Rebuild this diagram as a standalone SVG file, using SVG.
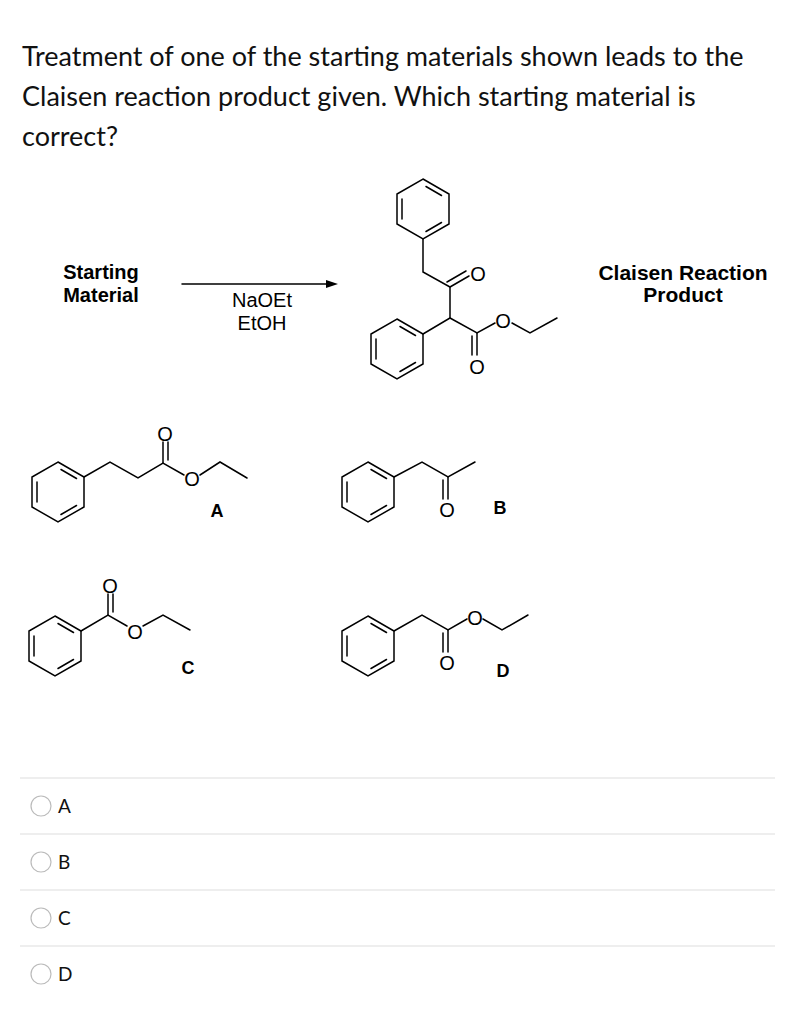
<svg xmlns="http://www.w3.org/2000/svg" xmlns:xlink="http://www.w3.org/1999/xlink" width="799" height="1024" viewBox="0 0 799 1024">
<style>
.b{stroke:#000;stroke-width:1.5;fill:none;stroke-linecap:round}
.q{font-family:Lato,"Open Sans",sans-serif;font-size:27px;fill:#111}
.o{font-family:"Liberation Sans",Arial,sans-serif;font-size:20px;fill:#000;text-anchor:middle}
.l{font-family:"Liberation Sans",Arial,sans-serif;font-size:18px;font-weight:bold;fill:#000;text-anchor:middle}
.h{font-family:"Liberation Sans",Arial,sans-serif;font-size:20px;font-weight:bold;fill:#000;text-anchor:middle}
.h2{font-family:"Liberation Sans",Arial,sans-serif;font-size:21px;font-weight:bold;fill:#000;text-anchor:middle}
.sep{stroke:#ddd;stroke-width:1}
.rad{fill:#fff;stroke:#bbb;stroke-width:1.2}
.opt{font-family:Lato,"Open Sans",sans-serif;font-size:19px;fill:#111}
</style>
<defs>
<g id="ring">
<polygon class="b" points="0,-30 26,-15 26,15 0,30 -26,15 -26,-15"/>
<line class="b" x1="-21" y1="-10" x2="-21" y2="10"/>
<line class="b" x1="3" y1="-22.5" x2="18.5" y2="-13.5"/>
<line class="b" x1="18.5" y1="13.5" x2="3" y2="22.5"/>
</g>
</defs>
<rect width="799" height="1024" fill="#fff"/>
<text class="q" x="22" y="66">Treatment of one of the starting materials shown leads to the</text>
<text class="q" x="22" y="106">Claisen reaction product given.  Which starting material is</text>
<text class="q" x="22" y="146">correct?</text>

<g id="start-label"><text class="h" x="101" y="279">Starting</text><text class="h" x="101" y="302">Material</text></g>
<g id="product-label"><text class="h2" x="683" y="280">Claisen Reaction</text><text class="h2" x="683" y="302">Product</text></g>
<g id="connectors">
<line class="b" x1="182" y1="284" x2="330" y2="284"/>
<polygon points="338,284 326,280 326,288" fill="#000"/>
<text class="o" x="262" y="307">NaOEt</text><text class="o" x="262" y="330">EtOH</text>
</g>

<g id="product">
<use xlink:href="#ring" x="423" y="209"/>
<use xlink:href="#ring" x="397" y="349"/>
<polyline class="b" points="423,239 423,272 450,287 450,318 423,334"/>
<line class="b" x1="450" y1="287" x2="469" y2="276"/><line class="b" x1="447" y1="282" x2="466" y2="271"/>
<text class="o" x="478" y="281">O</text>
<polyline class="b" points="450,318 477,333 495,323"/>
<line class="b" x1="477" y1="333" x2="477" y2="355"/><line class="b" x1="472" y1="336" x2="472" y2="355"/>
<text class="o" x="477" y="374">O</text>
<text class="o" x="503" y="328">O</text>
<polyline class="b" points="512,323 530,333 557,318"/>
</g>

<g id="A">
<use xlink:href="#ring" x="58" y="492"/>
<polyline class="b" points="84,477 110,462 138,478 163,463 184,475"/>
<line class="b" x1="163" y1="463" x2="163" y2="442"/><line class="b" x1="168" y1="460" x2="168" y2="442"/>
<text class="o" x="165" y="441">O</text>
<text class="o" x="192" y="486">O</text>
<polyline class="b" points="200,475 220,462 247,478"/>
<text class="l" x="217" y="517">A</text>
</g>

<g id="B">
<use xlink:href="#ring" x="368" y="492"/>
<polyline class="b" points="394,477 422,462 448,477 475,462"/>
<line class="b" x1="448" y1="477" x2="448" y2="499"/><line class="b" x1="443" y1="480" x2="443" y2="499"/>
<text class="o" x="447" y="517">O</text>
<text class="l" x="500" y="514">B</text>
</g>

<g id="C">
<use xlink:href="#ring" x="55" y="646"/>
<polyline class="b" points="81,631 108,615 127,626"/>
<line class="b" x1="108" y1="615" x2="108" y2="594"/><line class="b" x1="113" y1="612" x2="113" y2="594"/>
<text class="o" x="110" y="593">O</text>
<text class="o" x="135" y="639">O</text>
<polyline class="b" points="143,626 163,615 190,630"/>
<text class="l" x="188" y="674">C</text>
</g>

<g id="D">
<use xlink:href="#ring" x="368" y="646"/>
<polyline class="b" points="394,631 422,615 448,630 467,619"/>
<line class="b" x1="448" y1="630" x2="448" y2="652"/><line class="b" x1="443" y1="633" x2="443" y2="652"/>
<text class="o" x="447" y="670">O</text>
<text class="o" x="475" y="625">O</text>
<polyline class="b" points="483,619 502,630 528,615"/>
<text class="l" x="503" y="677">D</text>
</g>

<g id="options">
<line class="sep" x1="20" y1="778" x2="775" y2="778"/>
<line class="sep" x1="20" y1="834" x2="775" y2="834"/>
<line class="sep" x1="20" y1="890" x2="775" y2="890"/>
<line class="sep" x1="20" y1="946" x2="775" y2="946"/>
<circle class="rad" cx="41" cy="806" r="10"/><text class="opt" x="58" y="813">A</text>
<circle class="rad" cx="41" cy="862" r="10"/><text class="opt" x="58" y="869">B</text>
<circle class="rad" cx="41" cy="918" r="10"/><text class="opt" x="58" y="925">C</text>
<circle class="rad" cx="41" cy="974" r="10"/><text class="opt" x="58" y="981">D</text>
</g>
</svg>
